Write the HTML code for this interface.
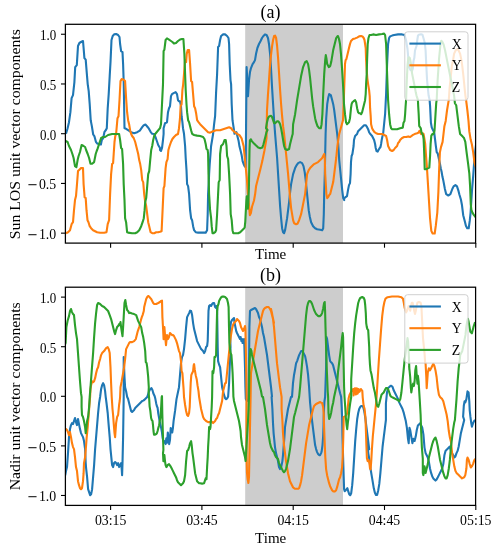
<!DOCTYPE html>
<html><head><meta charset="utf-8"><title>Sun LOS and Nadir unit vector components</title>
<style>
html,body{margin:0;padding:0;background:#fff;}
body{width:499px;height:550px;overflow:hidden;}
svg{display:block;}
text{font-family:"Liberation Serif","DejaVu Serif",serif;fill:#000;}
.tk{font-size:13.8px;}
.lb{font-size:14.2px;}
.tt{font-size:18px;}
.lg{font-size:13.8px;}
.mn{font-family:"DejaVu Serif",serif;font-size:13px;}
</style></head>
<body>
<svg width="499" height="550" viewBox="0 0 499 550">
<rect width="499" height="550" fill="#fff"/>
<clipPath id="clip0"><rect x="65.4" y="24.3" width="410.20000000000005" height="218.79999999999998"/></clipPath>
<rect x="245.2" y="24.3" width="97.80000000000001" height="218.79999999999998" fill="#cdcdcd"/>
<g clip-path="url(#clip0)">
<polyline points="66.0,133.8 67.6,128.2 69.0,122.2 70.4,112.2 71.6,98.1 73.0,95.1 74.4,82.1 75.2,67.1 76.8,65.1 78.0,46.0 79.4,43.0 81.0,42.0 83.0,41.0 83.6,48.0 84.4,58.1 85.7,59.7 86.7,72.1 87.7,84.1 88.7,91.1 89.7,104.2 90.7,120.2 91.8,125.9 93.2,134.5 94.5,136.4 95.9,141.8 97.3,143.6 98.6,144.1 100.0,144.5 100.9,144.5 101.8,140.0 103.2,138.2 104.5,131.8 105.9,130.0 106.8,128.2 107.7,108.2 108.7,94.1 109.7,76.1 110.5,62.1 111.5,40.0 112.7,36.0 114.1,34.4 116.1,34.0 118.1,35.0 119.5,37.0 120.1,44.0 121.1,51.1 122.5,52.1 123.1,64.1 123.7,82.1 124.1,104.2 124.5,128.2 125.7,128.6 128.1,130.2 131.1,132.2 134.1,133.2 137.2,132.2 139.8,130.6 142.2,127.2 143.8,125.2 145.4,124.6 146.6,125.8 147.8,127.2 149.2,129.2 150.6,131.8 152.2,133.8 154.2,134.0 155.8,138.0 157.2,142.0 158.2,145.0 160.0,148.0 160.0,150.0 161.0,151.0 162.0,148.0 163.0,140.0 163.6,134.0 163.6,128.2 165.0,123.2 167.0,122.2 168.0,112.2 169.0,108.2 170.0,106.2 171.0,96.1 172.0,94.1 173.6,93.1 175.6,92.1 177.0,94.1 178.0,100.2 179.0,101.2 180.0,101.2 181.0,106.2 181.6,116.2 182.4,122.2 183.0,128.2 184.0,133.8 185.1,146.0 185.7,158.0 186.5,170.1 187.1,184.1 188.1,186.1 189.1,194.1 190.1,210.2 191.1,218.2 192.1,220.2 193.1,226.2 194.1,230.2 195.7,232.2 198.1,232.6 202.1,232.6 205.7,232.6 207.1,230.2 207.7,214.2 208.1,194.1 208.7,184.1 209.1,174.1 209.7,164.1 210.5,154.0 211.1,146.0 212.1,140.0 213.1,134.0 214.1,124.2 215.1,116.2 216.1,92.1 217.1,74.1 218.1,47.0 219.1,46.0 220.1,40.0 221.1,36.0 223.1,34.4 225.1,34.4 227.1,36.0 228.5,38.0 229.1,44.0 229.7,64.1 230.5,80.1 231.1,84.1 231.7,104.2 232.5,120.2 233.7,128.2 234.5,133.8 236.4,132.1 237.4,136.2 238.5,140.4 239.5,146.6 240.6,150.7 241.6,154.9 242.6,161.1 243.7,164.2 244.7,166.3 245.7,167.3 246.6,67.1 247.0,74.1 247.6,92.1 248.0,96.1 248.4,90.1 249.0,80.1 250.0,72.1 251.0,68.1 252.6,64.1 254.0,62.1 255.0,60.1 256.0,54.1 257.4,48.0 259.0,44.0 260.6,41.0 262.0,38.0 263.4,36.0 265.0,34.4 266.6,35.0 268.0,38.0 269.0,44.0 270.1,54.1 271.1,70.1 272.1,88.1 273.1,104.2 274.1,120.2 275.1,133.8 276.1,146.0 277.1,158.0 278.1,174.1 279.1,190.1 280.1,206.1 281.1,218.2 282.1,228.2 283.1,232.2 284.1,233.2 285.1,230.2 286.1,224.2 287.1,218.2 288.1,210.2 289.1,202.1 290.1,192.1 291.1,184.1 293.1,174.1 295.1,168.1 296.7,165.1 298.1,163.1 300.1,162.1 302.1,163.1 303.5,166.1 304.7,172.1 305.7,180.1 306.7,190.1 307.7,200.1 308.7,210.2 309.7,216.2 311.1,222.2 313.1,226.2 315.1,228.2 317.1,229.2 320.2,229.8 322.2,230.2 323.2,228.2 323.8,214.2 324.2,194.1 324.8,174.1 325.2,154.0 325.6,134.0 326.2,118.2 327.2,104.2 328.2,98.1 329.2,94.1 330.8,95.1 332.2,100.2 333.2,104.2 334.2,110.2 335.2,118.2 336.2,126.2 337.2,133.8 338.2,144.0 339.2,160.1 340.2,170.1 341.2,180.1 342.2,190.1 343.2,198.1 344.2,200.1 344.0,198.5 345.6,197.1 347.0,196.1 348.0,190.1 349.0,185.1 350.0,183.1 350.6,174.1 351.0,162.1 351.6,156.0 352.4,154.0 353.6,146.0 354.0,140.0 355.1,136.0 356.1,135.0 357.1,134.0 358.1,131.2 360.1,129.2 362.1,127.2 364.1,125.2 365.7,125.2 367.1,127.2 368.1,129.2 369.1,132.2 370.1,133.8 372.1,136.0 373.1,138.0 374.1,140.0 375.1,144.0 375.7,148.0 376.5,151.0 377.7,151.6 378.5,150.0 379.7,148.0 380.5,147.0 381.1,144.0 381.7,140.0 382.5,136.0 383.1,134.0 385.1,114.2 386.1,94.1 387.1,64.1 388.1,44.0 389.1,38.0 390.1,36.4 392.1,35.6 394.1,35.0 398.1,34.4 402.1,34.4 404.5,35.0 404.5,34.8 406.0,40.0 407.5,49.0 408.3,58.1 409.0,67.1 410.5,70.1 412.0,70.8 412.8,68.6 413.5,61.1 414.3,58.1 415.0,50.5 416.5,46.0 417.3,40.0 418.0,35.5 418.8,34.8 421.0,34.3 422.5,34.8 424.0,40.0 424.8,43.0 425.6,50.5 426.3,65.6 427.1,80.6 428.6,95.6 429.6,99.8 430.1,106.3 430.9,122.7 431.8,127.6 432.6,129.2 434.2,132.5 435.0,139.0 435.8,145.6 436.7,152.1 437.8,153.7 438.8,158.6 439.9,163.5 440.8,168.4 441.6,171.7 442.4,176.6 443.2,179.9 444.9,189.0 446.2,194.2 448.3,195.5 450.4,194.2 452.3,189.0 453.6,186.4 455.4,185.1 457.0,186.4 458.3,190.3 459.3,194.2 460.9,199.5 461.9,204.7 463.2,215.2 464.6,220.4 465.9,225.7 467.2,228.3 468.7,228.3 469.8,220.4 470.6,212.6 471.9,191.6 473.2,175.9 474.5,157.6 476.1,144.5" fill="none" stroke="#1f77b4" stroke-width="2.1" stroke-linejoin="round" stroke-linecap="butt"/>
<polyline points="66.0,233.2 68.0,232.2 70.0,230.2 71.6,224.2 73.0,222.2 74.0,210.2 75.0,200.1 76.0,196.1 77.0,184.1 78.0,171.1 79.4,169.7 81.0,168.1 83.0,168.1 83.6,184.1 84.6,197.1 85.7,198.1 86.5,210.2 87.5,220.2 88.5,222.2 89.7,226.2 91.1,228.2 93.1,230.2 95.1,231.2 97.1,232.2 100.1,232.8 104.1,232.8 106.5,232.2 107.7,224.2 109.1,220.2 110.1,194.1 111.1,174.1 112.1,164.1 113.1,163.1 113.7,154.0 114.5,142.0 115.3,136.0 116.1,134.0 117.5,118.2 118.5,116.2 119.5,100.2 120.5,81.1 121.7,79.1 123.7,79.7 125.1,81.1 126.1,98.1 127.1,112.2 128.1,120.2 129.1,124.2 130.1,130.2 131.1,133.8 132.1,136.0 133.7,138.0 135.2,142.0 136.2,146.0 137.2,150.0 138.2,154.0 139.2,160.1 140.2,164.1 141.2,170.1 142.2,180.1 143.2,182.1 144.2,194.1 145.2,202.1 146.2,206.1 147.2,214.2 148.2,222.2 149.2,226.2 150.6,232.2 152.2,233.2 154.2,233.2 156.2,232.2 158.2,232.2 160.0,231.8 161.6,231.2 162.4,214.2 163.6,188.1 164.4,186.1 165.6,168.1 166.4,162.1 167.6,159.1 168.4,150.0 169.6,146.0 171.0,142.0 172.4,139.0 174.0,137.0 176.0,135.0 178.0,134.0 179.0,128.2 180.0,118.2 180.6,106.2 181.6,104.2 182.4,90.1 183.2,84.1 184.0,74.1 185.1,60.1 186.1,62.1 186.7,54.1 187.7,50.1 189.1,50.1 190.1,64.1 191.1,81.1 192.1,82.1 193.1,94.1 194.1,106.2 195.1,108.2 196.1,113.2 197.1,120.2 198.5,122.2 200.1,124.2 202.1,126.2 204.1,128.2 206.1,130.2 208.1,132.2 210.1,132.6 213.1,131.2 216.1,130.2 220.1,130.2 223.1,129.2 226.1,128.2 229.1,127.2 231.1,128.2 232.5,130.2 234.5,131.8 237.2,133.8 239.5,135.2 241.6,138.3 243.7,146.6 244.7,157.0 245.7,167.3 246.8,177.7 247.8,192.2 248.9,204.7 249.9,215.1 250.9,213.0 252.0,206.8 254.0,200.5 255.1,194.3 256.1,186.0 258.2,177.7 260.3,169.4 262.3,161.1 264.4,150.7 266.5,138.3 267.0,110.2 268.0,94.1 269.0,80.1 270.1,64.1 271.1,54.1 272.1,46.0 273.1,40.0 274.1,36.0 275.1,35.6 276.1,38.0 277.1,46.0 278.1,58.1 279.1,74.1 280.1,90.1 281.1,104.2 282.1,116.2 283.1,126.2 284.1,133.8 285.1,144.0 286.1,154.0 287.1,164.1 288.1,174.1 289.1,186.1 290.1,198.1 291.1,208.1 292.1,214.2 293.1,220.2 294.1,223.2 296.1,224.2 297.5,223.8 299.1,220.2 301.1,214.2 303.1,204.1 305.1,194.1 306.1,184.1 307.1,174.1 308.7,170.1 310.1,168.1 312.1,166.1 314.1,164.1 316.1,163.1 318.1,162.1 320.2,160.1 322.2,158.0 323.2,156.0 324.2,154.0 324.8,158.0 325.2,174.1 325.8,184.1 326.4,194.1 327.2,198.1 328.2,197.1 329.2,195.1 330.2,194.1 331.2,190.1 332.2,186.1 333.2,182.1 334.2,174.1 335.2,166.1 336.2,158.0 337.2,148.0 338.2,140.0 339.2,134.0 343.0,120.2 344.0,94.1 345.0,64.1 345.6,60.1 346.4,59.1 347.6,54.1 349.0,48.0 350.0,44.0 351.0,41.0 352.0,40.0 353.0,39.0 355.1,38.4 357.1,37.6 359.1,36.4 361.1,36.0 362.5,36.4 363.7,38.0 364.5,40.0 365.1,44.0 365.7,48.0 366.1,60.1 366.7,70.1 367.3,78.1 368.1,84.1 369.1,90.1 369.7,96.1 370.1,108.2 370.7,116.2 371.1,124.2 372.1,128.2 373.1,130.2 374.5,132.2 376.1,133.2 378.1,134.0 380.1,134.0 382.1,134.0 384.1,135.0 386.1,136.0 387.1,140.0 388.1,146.0 389.1,148.0 390.1,150.0 392.1,151.0 393.7,150.0 395.1,148.0 396.1,147.0 397.1,146.0 398.1,143.0 399.1,142.0 400.1,140.0 401.1,139.0 402.1,138.0 404.1,137.0 406.2,137.0 408.2,136.4 410.2,137.0 413.0,134.9 414.6,134.1 417.1,133.3 418.7,132.5 419.5,130.8 420.3,132.5 421.1,134.1 422.8,133.3 423.6,134.1 424.4,139.0 425.2,143.9 426.0,155.4 426.9,166.8 427.4,175.0 427.7,179.9 430.0,217.8 431.3,230.9 432.6,233.5 434.7,233.5 435.8,225.7 437.3,212.6 438.4,191.6 439.2,168.1 439.9,152.4 441.0,147.1 442.6,141.9 444.4,126.2 445.7,120.9 447.0,110.5 448.3,102.6 448.8,100.0 449.6,88.1 451.1,73.1 451.9,65.6 452.6,62.6 453.4,58.1 454.1,53.6 455.6,50.5 457.1,49.0 458.6,50.5 460.1,53.6 461.6,61.1 462.4,67.1 463.1,73.1 463.9,80.6 464.6,88.1 465.4,95.6 466.1,100.1 467.4,110.5 468.5,120.9 469.3,131.4 470.6,139.3 471.9,144.5 473.2,152.4 474.5,162.8 476.1,168.1" fill="none" stroke="#ff7f0e" stroke-width="2.1" stroke-linejoin="round" stroke-linecap="butt"/>
<polyline points="65.6,141.0 67.6,142.0 69.0,146.0 71.0,150.0 72.4,154.0 73.6,158.0 75.0,166.1 76.4,167.1 77.6,160.1 78.6,156.0 80.0,152.0 81.6,145.0 83.6,146.0 85.1,147.0 86.1,150.0 87.7,154.0 89.1,158.0 90.5,163.7 92.1,163.7 94.1,162.1 95.7,154.0 96.7,151.0 97.7,148.4 99.1,144.0 101.1,138.0 103.1,137.0 105.1,137.0 108.1,135.0 112.1,134.0 117.1,134.0 119.1,134.0 120.1,140.0 121.1,148.0 122.1,149.0 123.1,164.1 123.7,184.1 124.5,200.1 125.1,218.2 126.1,222.2 127.1,232.2 128.1,232.6 132.1,233.2 135.2,233.2 137.2,232.2 139.2,230.2 141.2,226.2 142.6,222.2 143.8,218.2 144.6,210.2 145.2,202.1 146.2,198.1 147.2,186.1 148.2,174.1 149.2,171.1 150.2,160.1 151.2,150.0 152.2,146.0 153.2,140.0 154.2,136.0 155.2,134.0 160.0,128.2 161.0,124.2 162.0,104.2 163.0,84.1 163.6,51.1 164.4,49.7 165.6,40.0 167.0,38.4 169.0,39.6 171.0,41.0 172.4,42.0 174.0,43.6 176.0,43.0 178.0,41.0 180.0,39.6 182.0,39.0 183.4,39.0 184.4,54.1 185.1,74.1 185.7,90.1 186.5,104.2 187.1,112.2 188.1,120.2 189.1,122.2 190.1,126.2 191.1,130.2 192.1,133.8 194.1,135.0 197.1,135.6 200.1,136.0 203.1,137.0 204.5,139.0 205.7,144.0 206.5,149.0 207.7,150.0 208.1,154.0 208.5,174.1 209.1,194.1 210.1,210.2 211.1,218.2 211.7,226.2 212.5,233.2 213.7,233.2 215.1,232.2 216.1,230.2 217.1,214.2 218.1,194.1 218.7,182.1 219.7,180.1 220.1,154.0 221.1,146.0 223.1,144.0 224.5,140.0 225.7,140.0 226.5,146.0 227.1,156.0 228.1,159.1 229.1,174.1 230.1,194.1 230.7,214.2 231.7,220.2 232.5,230.2 233.3,233.2 235.2,233.2 238.2,233.2 240.2,232.2 242.2,230.2 244.2,228.2 244.7,227.5 245.3,221.3 245.7,213.0 246.4,200.5 246.8,196.4 247.4,198.5 247.8,208.8 248.2,204.7 248.9,188.1 249.5,150.7 249.9,140.4 250.9,139.3 252.0,141.4 254.0,143.5 256.1,145.6 258.2,147.6 260.3,148.3 262.3,147.6 263.4,144.5 264.4,140.4 265.5,136.2 266.5,132.1 267.5,130.0 266.0,128.2 267.0,122.2 268.0,118.2 269.4,116.2 271.1,115.8 272.1,117.2 273.1,120.2 274.1,123.2 275.1,123.2 276.1,122.2 277.1,121.2 278.1,121.2 279.1,122.2 280.1,124.2 281.1,128.2 282.1,133.8 283.1,140.0 284.1,146.0 285.1,149.0 287.1,150.0 289.1,149.0 290.1,144.0 291.1,140.0 292.1,136.0 292.7,134.0 293.1,124.2 295.1,114.2 297.1,100.2 299.1,88.1 301.1,76.1 303.1,67.1 305.1,62.1 306.7,61.1 308.1,64.1 309.1,70.1 310.1,78.1 311.1,88.1 312.1,98.1 313.1,106.2 314.1,112.2 315.1,118.2 316.1,122.2 317.5,126.2 319.1,128.2 320.8,128.2 321.6,124.2 322.4,114.2 323.2,94.1 324.2,74.1 325.2,60.1 325.8,55.1 326.4,58.1 327.2,64.1 328.8,67.1 330.2,66.1 331.2,62.1 332.2,56.1 333.2,50.1 334.2,46.0 335.2,42.0 336.2,38.0 337.6,36.0 338.0,36.0 339.0,39.0 340.0,44.0 341.0,54.1 342.0,68.1 343.0,84.1 344.0,104.2 345.0,114.2 346.0,122.2 347.0,124.2 348.0,123.2 349.0,122.2 350.0,118.2 351.0,108.2 351.6,104.2 352.4,102.2 353.6,101.2 355.1,100.2 356.1,102.2 357.1,108.2 358.1,112.2 359.1,113.2 360.1,113.2 361.1,114.2 362.1,112.2 363.1,108.2 364.1,104.2 365.1,100.2 365.7,94.1 366.1,84.1 366.7,74.1 367.1,60.1 367.7,44.0 368.5,38.0 369.5,35.0 371.1,35.0 373.1,34.4 376.1,35.0 379.1,34.4 382.1,34.0 384.1,33.6 385.1,35.0 386.1,44.0 387.1,74.1 388.1,100.2 389.1,114.2 390.1,124.2 391.1,128.2 392.1,129.2 394.1,129.2 397.1,129.2 400.1,128.2 402.8,127.6 403.5,122.7 404.5,121.0 405.1,114.5 405.6,106.3 406.1,99.8 406.8,80.6 407.5,65.6 408.3,58.1 409.0,57.3 409.8,58.1 410.5,61.1 411.3,65.6 412.0,73.1 413.5,80.6 415.0,88.1 415.8,92.6 416.5,95.6 417.9,99.8 418.2,106.3 418.7,114.5 419.2,125.9 419.8,126.8 420.8,128.4 421.5,132.5 422.5,134.1 423.1,135.8 423.6,139.0 424.1,150.5 424.4,158.6 424.7,169.2 426.0,169.2 427.7,168.4 429.3,167.6 430.1,155.4 430.6,143.9 431.3,135.8 432.3,134.1 433.4,134.1 434.5,130.8 435.0,122.7 435.5,114.5 436.2,103.1 436.7,99.8 437.6,80.6 439.1,58.1 440.6,43.0 441.3,40.8 442.1,41.5 443.6,44.5 445.1,50.5 446.6,58.1 448.1,65.6 449.6,73.1 451.1,80.6 452.6,88.1 454.1,95.6 454.9,103.2 456.2,105.2 457.5,115.7 458.8,126.2 460.1,134.0 462.7,136.6 464.0,138.0 465.3,141.9 466.6,152.4 468.0,162.8 469.3,173.3 470.1,186.4 470.8,204.7 471.4,209.9 472.4,212.6 474.0,215.2 476.1,217.8" fill="none" stroke="#2ca02c" stroke-width="2.1" stroke-linejoin="round" stroke-linecap="butt"/>
</g>
<rect x="65.4" y="24.3" width="410.20000000000005" height="218.79999999999998" fill="none" stroke="#000" stroke-width="1.25"/>
<line x1="61.00000000000001" y1="34.25" x2="65.4" y2="34.25" stroke="#000" stroke-width="1.1"/>
<text x="56.2" y="40.15" text-anchor="end" textLength="16.2" lengthAdjust="spacingAndGlyphs" class="tk">1.0</text>
<line x1="61.00000000000001" y1="83.97" x2="65.4" y2="83.97" stroke="#000" stroke-width="1.1"/>
<text x="56.2" y="89.87" text-anchor="end" textLength="16.2" lengthAdjust="spacingAndGlyphs" class="tk">0.5</text>
<line x1="61.00000000000001" y1="133.70" x2="65.4" y2="133.70" stroke="#000" stroke-width="1.1"/>
<text x="56.2" y="139.60" text-anchor="end" textLength="16.2" lengthAdjust="spacingAndGlyphs" class="tk">0.0</text>
<line x1="61.00000000000001" y1="183.43" x2="65.4" y2="183.43" stroke="#000" stroke-width="1.1"/>
<text x="56.2" y="189.33" text-anchor="end" class="tk"><tspan class="mn">−</tspan><tspan dx="0.7">0.5</tspan></text>
<line x1="61.00000000000001" y1="233.15" x2="65.4" y2="233.15" stroke="#000" stroke-width="1.1"/>
<text x="56.2" y="239.05" text-anchor="end" class="tk"><tspan class="mn">−</tspan><tspan dx="0.7">1.0</tspan></text>
<line x1="110.60" y1="243.1" x2="110.60" y2="247.7" stroke="#000" stroke-width="1.1"/>
<line x1="201.90" y1="243.1" x2="201.90" y2="247.7" stroke="#000" stroke-width="1.1"/>
<line x1="293.20" y1="243.1" x2="293.20" y2="247.7" stroke="#000" stroke-width="1.1"/>
<line x1="384.50" y1="243.1" x2="384.50" y2="247.7" stroke="#000" stroke-width="1.1"/>
<line x1="475.80" y1="243.1" x2="475.80" y2="247.7" stroke="#000" stroke-width="1.1"/>
<text x="270.7" y="258.6" text-anchor="middle" textLength="31.2" lengthAdjust="spacingAndGlyphs" class="lb">Time</text>
<text x="270.5" y="17.6" text-anchor="middle" class="tt">(a)</text>
<text transform="translate(19.6,134.2) rotate(-90)" x="0" y="0" text-anchor="middle" textLength="210" lengthAdjust="spacingAndGlyphs" class="lb">Sun LOS unit vector components</text>
<rect x="404.8" y="31.8" width="63.2" height="68.4" rx="2.8" ry="2.8" fill="#fff" fill-opacity="0.8" stroke="#d0d0d0" stroke-width="1"/>
<line x1="409.4" y1="43.6" x2="440.9" y2="43.6" stroke="#1f77b4" stroke-width="2.1"/>
<text x="451.8" y="48.6" class="lg">X</text>
<line x1="409.4" y1="65.3" x2="440.9" y2="65.3" stroke="#ff7f0e" stroke-width="2.1"/>
<text x="451.8" y="70.3" class="lg">Y</text>
<line x1="409.4" y1="87.0" x2="440.9" y2="87.0" stroke="#2ca02c" stroke-width="2.1"/>
<text x="451.8" y="92.0" class="lg">Z</text>
<clipPath id="clip1"><rect x="65.4" y="287.2" width="410.20000000000005" height="218.2"/></clipPath>
<rect x="245.2" y="287.2" width="97.80000000000001" height="218.2" fill="#cdcdcd"/>
<g clip-path="url(#clip1)">
<polyline points="65.2,475.2 66.0,471.1 67.0,467.1 68.0,453.1 69.0,437.1 70.0,429.1 71.0,425.1 72.0,423.1 73.0,424.1 74.0,421.0 75.0,418.0 76.0,422.1 77.0,425.1 78.0,419.0 79.0,424.1 80.0,429.1 81.0,433.1 82.0,435.1 83.0,437.1 84.0,441.1 85.1,449.1 85.7,463.1 86.1,468.1 87.1,477.2 88.1,489.2 89.1,492.2 90.1,495.2 91.1,494.2 92.1,489.2 93.1,477.2 94.1,465.1 95.1,449.1 96.1,437.1 97.1,425.1 98.1,413.0 99.1,403.0 100.1,397.0 101.1,389.2 102.1,385.2 103.1,383.2 104.1,385.2 105.1,391.2 105.7,396.8 106.5,403.0 107.7,413.0 108.5,423.1 109.7,437.1 110.5,449.1 111.3,457.1 112.1,465.1 113.1,467.1 114.1,463.1 115.1,462.1 116.1,463.1 117.1,465.1 118.1,463.1 119.1,467.1 120.1,465.1 121.1,463.1 121.7,469.1 122.1,475.2 122.5,463.1 123.1,437.1 123.7,397.0 123.7,357.1 124.1,367.2 124.5,377.2 125.1,387.2 126.1,391.2 127.1,396.8 128.1,399.0 129.1,403.0 130.1,407.0 131.1,411.0 132.1,412.0 133.1,411.0 134.1,410.0 135.2,408.0 136.2,407.0 137.2,406.0 138.2,405.0 139.2,404.0 140.2,403.0 141.2,402.0 142.2,401.0 143.2,400.6 144.2,400.0 145.2,399.0 146.2,398.0 147.2,397.0 148.9,391.8 150.3,388.9 151.5,388.2 152.5,390.3 153.3,393.3 154.7,396.2 155.4,399.1 156.2,403.4 156.9,406.3 157.6,407.8 158.3,413.6 159.1,418.0 159.8,422.3 160.5,425.2 161.2,428.1 162.0,432.5 162.7,438.3 163.4,441.2 164.2,442.7 164.9,441.2 165.6,444.1 166.3,438.3 167.1,442.7 167.8,432.5 168.5,436.9 169.2,444.1 170.0,439.8 170.7,428.1 171.4,431.0 172.2,432.5 172.9,428.1 173.6,420.9 175.1,410.7 176.5,399.1 179.0,387.2 180.0,375.2 181.0,363.2 182.0,357.1 183.0,355.1 184.0,349.1 185.1,339.1 186.1,327.1 187.1,317.1 188.1,315.1 189.1,313.1 190.1,310.6 191.1,311.0 192.1,315.1 193.1,323.1 194.1,329.1 195.1,333.1 196.1,337.1 197.1,341.1 198.1,343.1 199.1,345.1 200.1,347.1 201.1,349.1 202.1,350.1 203.1,351.1 204.1,353.1 205.1,351.1 206.1,347.1 207.1,346.1 207.7,341.1 208.1,327.1 208.5,311.0 209.1,306.0 210.1,305.0 211.1,306.0 212.1,304.0 213.1,303.0 214.1,303.0 215.1,307.0 216.1,308.0 216.5,306.0 217.1,309.0 217.7,347.1 218.1,361.1 218.7,363.2 219.3,365.2 220.1,367.2 221.1,377.2 222.1,387.2 223.1,391.2 224.1,395.2 225.1,398.2 226.1,399.2 227.1,398.4 228.1,396.8 229.1,383.2 229.7,367.2 230.5,347.1 230.0,331.0 230.6,325.0 231.0,322.0 232.0,320.0 233.0,319.0 234.0,318.0 234.6,323.0 235.4,327.0 236.2,331.0 237.0,333.0 238.0,335.0 239.0,337.0 240.0,339.0 240.6,337.0 241.4,341.0 242.0,339.0 242.6,343.0 243.4,341.0 244.0,339.0 244.4,347.0 245.0,367.0 245.4,387.0 245.8,399.0 247.0,401.0 248.2,399.0 248.6,387.0 249.0,367.0 249.4,327.0 250.0,311.0 251.0,310.0 253.0,309.0 255.0,308.0 256.0,309.0 257.0,311.0 258.0,313.0 259.0,317.0 260.0,319.0 261.0,323.0 262.0,327.0 263.0,333.0 264.0,337.0 265.0,343.0 266.0,349.0 267.0,355.0 268.0,363.0 269.0,371.0 270.0,379.0 271.0,387.0 272.0,396.6 271.6,397.0 272.4,409.0 273.0,423.1 273.6,433.1 274.4,441.1 275.0,447.1 276.0,453.1 277.0,457.1 278.0,461.1 279.0,467.1 280.0,469.1 281.0,468.1 281.6,465.1 282.4,461.1 283.0,455.1 283.6,447.1 284.4,437.1 285.0,427.1 286.0,421.0 287.0,415.0 288.0,409.0 289.0,405.0 290.0,401.0 291.0,397.0 292.0,396.8 293.0,383.2 294.0,375.2 295.1,369.2 296.1,363.2 297.1,361.1 298.1,358.1 299.1,355.1 300.1,353.1 301.1,351.1 302.1,351.1 303.1,352.1 304.1,354.1 305.1,356.1 306.1,361.1 307.1,367.2 308.1,375.2 309.1,387.2 309.7,396.8 310.1,403.0 311.1,413.0 312.1,421.0 313.1,429.1 314.1,437.1 315.1,445.1 316.1,449.1 317.1,452.1 318.1,454.1 319.1,455.1 320.1,455.1 321.1,453.1 321.7,451.1 322.5,445.1 323.1,437.1 323.5,427.1 323.7,417.0 324.1,407.0 324.5,401.0 325.1,397.0 326.1,367.2 326.5,337.1 327.1,339.1 328.1,347.1 329.1,355.1 330.1,361.1 331.1,362.2 332.1,363.2 333.1,365.2 334.1,369.2 335.1,373.2 336.1,377.2 337.1,381.2 338.1,385.2 339.1,389.2 340.1,393.2 341.1,396.8 341.7,407.0 342.1,417.0 342.5,437.1 343.1,457.1 343.7,477.2 344.1,489.2 344.7,491.2 345.8,490.2 346.6,489.2 347.4,488.2 348.2,491.2 349.2,494.2 350.2,495.2 351.2,493.2 352.2,485.2 353.2,473.2 354.2,457.1 355.2,441.1 356.2,429.1 357.2,419.0 358.2,413.0 359.2,409.0 360.2,407.0 361.2,406.0 362.2,406.0 363.2,407.0 364.2,411.0 365.2,417.0 366.2,425.1 367.2,433.1 368.2,441.1 369.2,449.1 367.2,442.0 368.3,453.1 369.4,459.7 370.5,468.5 371.6,475.1 372.7,481.7 373.8,488.3 374.9,492.8 376.0,495.0 377.1,495.0 378.2,490.5 379.3,483.9 380.4,472.9 381.5,459.7 382.6,446.5 383.7,437.6 384.8,428.8 385.9,420.0 385.9,403.5 387.0,392.5 388.1,388.1 389.3,387.0 390.4,385.9 391.5,385.9 392.6,387.0 393.7,390.3 394.8,392.5 395.9,394.7 397.0,396.9 398.1,399.1 399.2,402.4 400.3,404.6 401.4,406.8 402.5,409.0 403.6,412.3 404.7,416.7 405.8,421.1 406.9,427.8 408.0,438.8 408.7,443.2 409.5,427.8 410.2,430.0 411.3,436.6 412.4,443.2 413.5,438.8 414.6,441.0 415.7,436.6 416.8,430.0 417.9,425.5 419.0,424.4 420.1,423.3 421.2,425.5 422.3,427.8 423.4,434.4 424.5,447.6 425.6,453.1 426.7,455.3 427.8,457.5 428.9,461.9 430.0,468.5 431.1,472.9 432.2,476.2 433.3,478.4 434.4,479.5 435.5,480.6 436.6,479.5 437.8,477.3 438.9,475.1 440.0,472.9 441.1,470.7 442.2,468.5 443.3,464.1 444.4,455.3 445.5,450.9 446.6,449.8 447.7,448.7 448.8,447.6 449.9,446.5 451.0,450.9 452.1,453.1 453.2,455.3 454.3,457.5 455.4,456.4 456.5,453.1 457.6,450.9 458.7,446.5 459.8,439.8 460.9,433.2 462.0,428.8 463.1,424.4 464.2,420.0 463.1,416.7 463.8,405.7 464.6,401.3 465.3,402.4 466.4,399.1 467.5,391.4 468.6,392.5 469.3,401.3 469.7,410.1 470.4,416.7 471.3,423.3 471.9,426.6 473.0,423.3 474.1,421.1 475.2,420.0" fill="none" stroke="#1f77b4" stroke-width="2.1" stroke-linejoin="round" stroke-linecap="butt"/>
<polyline points="65.6,429.1 66.0,429.1 67.0,430.1 68.0,432.1 69.0,435.1 70.0,432.1 71.0,437.1 72.0,443.1 73.0,447.1 74.0,449.1 75.0,457.1 76.0,467.1 77.0,471.1 78.0,481.2 79.0,485.2 80.0,488.2 81.0,489.2 82.0,488.2 83.0,481.2 83.6,473.2 84.0,463.1 85.1,457.1 86.1,445.1 86.7,437.1 87.7,427.1 88.5,417.0 89.3,407.0 90.1,397.0 90.5,389.2 91.1,385.2 92.1,381.2 93.1,382.2 94.1,381.2 95.1,378.2 96.1,373.2 97.1,369.2 98.1,367.2 99.1,362.2 100.1,359.1 101.1,355.1 102.1,353.1 104.1,351.1 106.1,348.1 107.7,347.1 108.7,349.1 109.7,353.1 110.5,367.2 111.1,383.2 111.7,396.8 112.5,409.0 113.1,415.0 113.7,423.1 114.5,433.1 115.1,437.1 116.1,423.1 117.1,417.0 118.1,415.0 119.1,405.0 119.7,401.0 120.1,397.0 120.5,387.2 121.7,381.2 123.1,373.2 124.1,367.2 125.1,359.1 126.1,349.1 127.1,347.1 128.1,345.1 129.1,343.1 130.1,342.1 132.1,342.1 134.1,341.1 135.8,339.1 136.8,335.1 137.8,331.1 139.2,327.1 140.2,323.1 141.2,319.1 141.8,317.1 142.6,315.1 143.8,311.0 144.2,307.0 145.2,303.0 146.2,299.0 147.2,297.0 148.2,296.0 149.2,296.6 150.2,298.0 151.2,299.0 152.2,301.0 153.2,303.0 154.2,304.0 156.2,304.0 158.2,303.0 160.0,302.0 161.0,301.0 162.0,300.6 162.4,317.1 163.0,327.1 163.6,339.1 164.4,327.1 165.0,335.1 166.0,345.1 167.0,335.1 168.0,339.1 169.0,337.1 170.0,333.1 171.0,334.1 172.0,335.1 173.0,335.1 174.0,336.1 175.0,338.1 176.0,340.1 177.0,343.1 178.0,347.1 179.0,351.1 180.0,353.1 181.0,361.1 181.6,371.2 182.4,373.2 183.0,381.2 183.6,389.2 184.0,396.8 185.1,405.0 186.1,411.0 187.1,415.0 188.1,416.0 189.1,413.0 189.7,407.0 190.1,397.0 190.7,383.2 191.3,375.2 192.1,373.2 193.1,371.2 193.7,365.2 194.1,364.2 194.7,369.2 195.7,375.2 196.7,379.2 197.5,385.2 198.5,391.2 199.1,396.8 200.1,403.0 201.1,409.0 202.1,413.0 203.1,417.0 204.1,419.0 205.1,420.0 206.1,421.0 208.1,422.1 210.1,422.1 211.1,421.0 212.1,422.1 213.1,423.1 214.1,422.1 215.1,421.0 216.1,419.0 217.1,418.0 218.1,415.0 219.1,413.0 220.1,409.0 221.1,405.0 222.1,401.0 222.5,397.0 223.1,391.2 224.1,387.2 225.1,383.2 226.0,383.0 227.0,373.0 228.0,363.0 229.0,353.0 230.0,343.0 231.0,335.0 232.0,329.0 233.0,325.0 234.0,323.0 235.0,322.0 236.0,321.0 237.0,319.0 238.0,320.0 239.0,321.0 240.0,323.0 241.0,327.0 242.0,329.0 243.0,331.0 244.0,329.0 245.0,326.0 245.4,329.0 245.8,347.0 246.2,367.0 246.6,396.6 246.4,437.0 246.6,457.0 247.0,473.0 247.6,479.0 248.4,483.0 249.0,477.0 249.4,457.0 249.8,437.0 250.2,417.0 250.6,397.0 251.0,373.0 252.0,367.0 253.0,361.0 254.0,355.0 255.0,349.0 256.0,343.0 257.0,337.0 258.0,331.0 259.0,327.0 260.0,323.0 261.0,319.0 262.0,315.0 263.0,311.0 264.0,309.0 265.0,308.0 267.0,307.0 268.6,307.0 270.0,309.0 271.0,311.0 272.0,315.0 273.0,319.0 274.0,323.0 271.0,309.0 272.0,313.1 273.0,319.1 274.0,327.1 275.0,339.1 276.0,351.1 277.0,363.2 278.0,371.2 279.0,379.2 280.0,387.2 281.0,393.2 281.6,396.8 281.6,409.0 282.4,421.0 283.0,433.1 284.0,445.1 285.0,453.1 286.0,461.1 287.0,467.1 288.0,473.2 289.0,477.2 290.0,481.2 291.0,483.2 292.0,485.2 293.0,487.2 294.0,488.2 295.1,488.8 296.1,488.8 298.1,488.8 299.1,488.2 300.1,485.2 301.1,481.2 302.1,475.2 303.1,467.1 304.1,459.1 305.1,451.1 306.1,443.1 307.1,437.1 308.1,431.1 309.1,425.1 310.1,421.0 311.1,417.0 312.1,413.0 313.1,409.0 314.1,406.0 315.1,405.0 316.1,404.0 318.1,403.0 320.1,402.0 321.1,402.6 322.1,403.0 323.1,407.0 323.7,413.0 324.1,427.1 324.7,443.1 325.3,457.1 326.1,469.1 327.1,475.2 328.1,479.2 329.1,483.2 330.1,486.2 331.1,488.2 332.1,490.2 333.1,491.2 334.1,491.6 335.1,491.2 336.1,490.2 337.1,487.2 338.1,483.2 339.1,479.2 340.1,477.2 341.1,473.2 342.1,467.1 342.7,457.1 343.3,437.1 343.7,417.0 344.6,416.8 346.5,415.0 347.2,413.2 347.7,407.7 348.3,402.3 348.6,398.6 349.5,395.0 350.5,393.0 351.5,391.0 352.3,390.0 353.2,389.0 353.6,395.5 354.1,389.0 355.0,388.2 355.9,394.5 356.8,388.2 357.7,393.6 358.6,389.0 359.5,391.8 360.9,389.0 362.3,390.9 362.7,397.3 363.6,405.5 364.6,409.1 365.5,418.2 366.4,445.6 366.9,458.3 367.7,461.1 368.7,460.2 369.5,463.8 370.0,468.4 370.6,469.3 371.3,460.2 371.8,451.0 372.8,436.5 373.7,427.3 374.6,418.2 375.5,409.1 376.4,400.0 377.8,377.3 378.9,359.8 380.0,344.5 381.1,329.3 382.2,316.2 383.3,307.5 384.4,302.0 385.5,298.7 387.6,297.2 392.0,296.5 398.1,296.5 401.4,297.2 403.0,298.8 403.8,302.8 404.6,307.6 406.2,312.4 407.0,310.8 408.6,306.0 409.4,307.6 410.2,310.8 411.0,306.0 411.8,302.8 412.6,302.8 413.4,306.0 414.2,310.8 415.0,314.0 415.8,310.8 416.6,306.0 417.4,302.8 419.0,302.0 420.6,302.8 421.4,306.0 422.2,322.1 423.0,338.1 423.8,346.1 424.6,354.1 425.1,362.1 425.6,363.8 426.3,377.0 426.7,388.1 427.8,372.6 428.9,368.2 430.0,370.4 431.1,368.2 432.2,366.0 433.3,363.8 434.4,366.0 435.5,370.4 436.6,377.0 437.8,388.1 438.9,394.7 440.0,396.9 441.1,398.0 442.2,399.1 443.3,401.3 444.4,405.7 445.5,410.1 446.6,414.5 447.7,421.1 448.8,431.0 449.9,437.6 451.0,442.0 452.1,453.1 453.2,459.7 454.3,466.3 455.4,470.7 456.5,472.9 457.6,474.0 458.7,475.1 459.8,476.2 460.9,477.3 462.0,478.4 463.1,477.8 464.2,477.3 465.3,475.1 466.4,468.5 466.9,459.7 467.5,457.5 468.6,459.7 469.7,464.1 470.8,467.4 471.9,466.3 473.0,464.1 474.1,460.8 475.2,458.6" fill="none" stroke="#ff7f0e" stroke-width="2.1" stroke-linejoin="round" stroke-linecap="butt"/>
<polyline points="65.2,344.1 65.6,342.9 66.4,327.1 67.6,320.7 69.0,316.1 70.0,311.0 71.0,309.0 72.0,312.1 73.0,314.1 74.0,315.1 75.0,325.1 76.0,333.1 77.0,339.1 78.0,353.1 79.0,367.2 80.0,381.2 81.0,393.2 81.6,396.8 81.6,407.0 82.0,415.0 83.0,417.0 84.0,421.0 85.1,427.1 85.7,433.1 86.5,427.1 87.1,421.0 88.1,417.0 89.1,407.0 89.7,397.0 90.5,387.2 91.7,371.2 93.1,353.1 94.1,337.1 95.1,323.1 96.1,313.1 97.1,305.0 98.1,303.0 100.1,304.0 102.1,306.0 104.1,307.0 106.1,309.0 108.1,311.0 109.7,315.1 111.1,319.1 112.1,323.1 113.1,327.1 114.1,331.1 115.1,334.1 116.1,330.1 117.1,327.1 118.1,326.1 119.1,324.1 119.7,325.1 120.5,322.1 121.1,327.1 121.7,331.1 122.5,336.1 123.1,327.1 123.7,317.1 124.5,303.0 125.3,300.0 126.1,305.0 127.1,310.0 128.1,311.0 129.1,313.1 130.1,312.7 132.1,313.5 134.1,314.1 136.2,315.1 137.2,318.1 138.2,321.1 139.2,323.1 140.2,325.1 141.2,327.1 142.2,333.1 143.2,337.1 144.2,343.1 145.2,351.1 145.8,362.2 146.6,363.2 147.2,367.2 148.2,377.2 148.8,387.2 148.6,391.8 149.2,399.1 149.6,406.3 150.3,410.7 151.1,418.0 151.8,420.1 152.5,420.9 153.0,425.2 153.5,431.0 154.0,434.7 154.7,434.7 156.2,434.0 156.9,433.2 157.6,431.0 158.3,428.1 159.1,425.2 159.8,420.9 160.5,416.5 161.2,406.3 161.7,396.9 162.0,396.2 162.3,413.6 162.7,428.1 163.1,439.8 163.4,449.9 163.0,453.1 163.4,461.1 164.0,457.1 164.4,455.1 165.0,461.1 165.6,465.1 166.4,467.1 167.6,465.1 169.0,464.1 170.4,466.1 172.0,469.1 173.0,471.1 174.0,473.2 175.0,475.2 176.0,477.2 177.0,480.2 178.0,482.2 179.0,483.2 180.0,484.2 181.0,485.2 182.0,484.2 183.0,483.2 184.0,481.2 185.1,475.2 186.1,461.1 187.1,451.1 188.1,450.1 189.1,447.1 190.1,443.1 191.1,441.1 191.7,445.1 192.5,453.1 193.1,457.1 194.1,465.1 195.1,473.2 196.1,477.2 197.1,481.2 198.1,482.2 199.1,483.2 200.1,483.2 202.1,483.6 204.1,483.2 205.1,480.2 205.7,478.2 206.5,479.2 207.1,467.1 207.7,457.1 208.1,447.1 208.7,437.1 209.1,427.1 209.7,428.1 210.1,429.1 210.5,427.1 211.1,417.0 211.7,407.0 212.1,397.0 212.5,371.2 213.3,373.2 214.1,367.2 214.5,357.1 215.3,357.1 216.1,355.1 216.7,327.1 217.1,311.0 217.7,306.0 218.5,304.0 219.1,301.0 220.1,299.0 221.1,297.4 222.1,296.6 223.7,296.6 225.1,297.0 227.0,299.0 228.0,303.0 228.6,307.0 229.0,327.0 229.4,343.0 230.0,349.0 230.6,353.0 231.4,355.0 232.0,363.0 232.6,373.0 233.0,383.0 233.4,396.6 234.0,401.0 235.0,405.0 236.0,409.0 237.0,413.0 238.0,417.0 239.0,421.0 240.0,427.0 240.6,431.0 241.0,437.0 242.0,445.0 243.0,449.0 244.0,453.0 245.0,457.0 245.6,461.0 246.2,451.0 247.0,437.0 248.0,421.0 248.6,409.0 249.0,397.0 249.4,367.0 250.0,353.0 250.6,349.0 251.4,351.0 252.0,355.0 253.0,359.0 254.0,363.0 255.0,367.0 256.0,371.0 257.0,375.0 258.0,379.0 259.0,383.0 260.0,387.0 261.0,391.0 262.0,396.6 263.0,397.0 264.0,403.0 265.0,409.0 266.0,417.0 267.0,425.0 268.0,431.0 269.0,437.0 270.0,443.0 271.0,447.0 272.0,449.0 273.0,451.0 274.0,452.0 275.0,455.1 276.0,457.1 277.0,458.1 278.0,459.1 279.0,463.1 280.0,465.1 281.0,467.1 282.0,469.1 283.0,471.1 284.0,472.2 285.0,471.1 286.0,469.1 287.0,465.1 288.0,461.1 289.0,455.1 290.0,449.1 291.0,441.1 292.0,433.1 293.0,425.1 294.0,417.0 295.1,413.0 296.1,409.0 297.1,405.0 298.1,401.0 299.1,397.0 300.1,387.2 301.1,375.2 302.1,363.2 303.1,351.1 304.1,339.1 305.1,327.1 306.1,315.1 307.1,307.0 308.1,303.0 309.1,301.0 310.1,301.0 311.1,302.0 312.1,304.0 313.1,307.0 314.1,310.0 315.1,312.1 316.1,314.1 317.1,315.1 318.1,316.1 319.1,316.1 320.1,316.1 321.1,315.1 322.1,313.1 323.1,309.0 324.1,303.0 324.7,302.0 325.1,311.0 325.5,327.1 326.1,347.1 326.7,367.2 327.3,381.2 327.7,391.2 328.1,396.8 328.5,413.0 329.1,419.0 330.1,417.0 331.1,413.0 332.1,407.0 333.1,403.0 334.1,397.0 337.1,383.2 338.1,371.2 339.1,363.2 340.1,355.1 341.1,347.1 342.1,337.1 342.7,333.1 343.1,337.1 343.3,347.1 343.7,367.2 344.1,387.2 344.5,396.8 345.2,407.0 345.8,417.0 346.6,425.1 347.2,429.1 347.8,423.1 348.6,417.0 349.4,409.0 350.2,403.0 351.2,397.0 351.2,379.2 352.2,363.2 353.2,347.1 354.2,333.1 355.2,323.1 356.2,315.1 357.2,309.0 358.2,303.0 359.2,300.0 360.2,298.0 362.2,297.0 363.8,298.0 364.6,300.0 365.2,305.0 365.8,313.1 366.2,323.1 366.8,327.1 367.4,329.1 368.2,330.1 369.2,347.1 369.4,355.0 369.9,363.8 370.5,370.4 371.6,374.8 372.7,381.5 373.8,388.1 374.9,392.5 376.0,399.1 377.1,405.7 378.2,406.8 379.3,403.5 380.4,399.1 381.5,394.7 382.6,393.6 383.7,392.5 384.8,390.3 385.9,388.1 387.0,388.1 388.1,389.2 389.3,392.5 390.4,395.8 391.5,396.9 393.7,398.0 395.9,399.1 398.1,400.2 399.2,401.3 400.3,399.1 401.4,392.5 402.5,381.5 403.6,370.4 404.7,359.4 405.3,355.0 407.5,338.1 408.1,341.3 408.8,354.1 409.4,370.0 409.1,366.0 410.2,377.0 410.9,388.1 411.3,392.5 412.4,385.9 413.1,383.7 413.9,385.9 414.6,381.5 415.3,370.4 416.1,366.0 416.8,377.0 417.5,383.7 417.9,375.9 418.6,381.5 419.0,388.1 419.7,399.1 420.6,414.5 421.2,432.2 421.9,447.6 422.8,458.6 422.8,472.9 423.4,475.1 424.5,466.3 425.6,472.9 426.7,468.5 427.8,464.1 428.9,457.5 430.0,453.1 431.1,448.7 432.2,444.3 433.3,440.9 434.4,438.7 435.5,437.6 436.6,440.9 437.8,446.5 438.9,453.1 440.0,459.7 441.1,464.1 442.2,468.5 443.3,472.9 444.4,476.2 445.5,478.4 446.6,478.4 447.7,475.1 448.8,468.5 449.9,459.7 451.0,446.5 452.1,437.6 453.2,428.8 454.3,422.2 454.9,420.0 456.5,399.1 457.6,381.5 458.7,368.2 459.8,359.4 460.2,355.0 462.3,350.9 463.9,342.9 465.5,334.9 466.3,326.9 467.1,322.1 467.9,318.8 468.7,322.1 469.5,326.9 470.3,331.7 471.9,333.3 473.5,326.9 475.1,322.1" fill="none" stroke="#2ca02c" stroke-width="2.1" stroke-linejoin="round" stroke-linecap="butt"/>
</g>
<rect x="65.4" y="287.2" width="410.20000000000005" height="218.2" fill="none" stroke="#000" stroke-width="1.25"/>
<line x1="61.00000000000001" y1="297.12" x2="65.4" y2="297.12" stroke="#000" stroke-width="1.1"/>
<text x="56.2" y="303.02" text-anchor="end" textLength="16.2" lengthAdjust="spacingAndGlyphs" class="tk">1.0</text>
<line x1="61.00000000000001" y1="346.71" x2="65.4" y2="346.71" stroke="#000" stroke-width="1.1"/>
<text x="56.2" y="352.61" text-anchor="end" textLength="16.2" lengthAdjust="spacingAndGlyphs" class="tk">0.5</text>
<line x1="61.00000000000001" y1="396.30" x2="65.4" y2="396.30" stroke="#000" stroke-width="1.1"/>
<text x="56.2" y="402.20" text-anchor="end" textLength="16.2" lengthAdjust="spacingAndGlyphs" class="tk">0.0</text>
<line x1="61.00000000000001" y1="445.89" x2="65.4" y2="445.89" stroke="#000" stroke-width="1.1"/>
<text x="56.2" y="451.79" text-anchor="end" class="tk"><tspan class="mn">−</tspan><tspan dx="0.7">0.5</tspan></text>
<line x1="61.00000000000001" y1="495.48" x2="65.4" y2="495.48" stroke="#000" stroke-width="1.1"/>
<text x="56.2" y="501.38" text-anchor="end" class="tk"><tspan class="mn">−</tspan><tspan dx="0.7">1.0</tspan></text>
<line x1="110.60" y1="505.4" x2="110.60" y2="510.0" stroke="#000" stroke-width="1.1"/>
<text x="110.60" y="525.00" text-anchor="middle" class="tk">03:15</text>
<line x1="201.90" y1="505.4" x2="201.90" y2="510.0" stroke="#000" stroke-width="1.1"/>
<text x="201.90" y="525.00" text-anchor="middle" class="tk">03:45</text>
<line x1="293.20" y1="505.4" x2="293.20" y2="510.0" stroke="#000" stroke-width="1.1"/>
<text x="293.20" y="525.00" text-anchor="middle" class="tk">04:15</text>
<line x1="384.50" y1="505.4" x2="384.50" y2="510.0" stroke="#000" stroke-width="1.1"/>
<text x="384.50" y="525.00" text-anchor="middle" class="tk">04:45</text>
<line x1="475.80" y1="505.4" x2="475.80" y2="510.0" stroke="#000" stroke-width="1.1"/>
<text x="475.80" y="525.00" text-anchor="middle" class="tk">05:15</text>
<text x="270.7" y="542.8" text-anchor="middle" textLength="31.2" lengthAdjust="spacingAndGlyphs" class="lb">Time</text>
<text x="270.5" y="280.6" text-anchor="middle" class="tt">(b)</text>
<text transform="translate(19.6,396.3) rotate(-90)" x="0" y="0" text-anchor="middle" textLength="188" lengthAdjust="spacingAndGlyphs" class="lb">Nadir unit vector components</text>
<rect x="404.8" y="294.7" width="63.2" height="68.4" rx="2.8" ry="2.8" fill="#fff" fill-opacity="0.8" stroke="#d0d0d0" stroke-width="1"/>
<line x1="409.4" y1="306.5" x2="440.9" y2="306.5" stroke="#1f77b4" stroke-width="2.1"/>
<text x="451.8" y="311.5" class="lg">X</text>
<line x1="409.4" y1="328.2" x2="440.9" y2="328.2" stroke="#ff7f0e" stroke-width="2.1"/>
<text x="451.8" y="333.2" class="lg">Y</text>
<line x1="409.4" y1="349.9" x2="440.9" y2="349.9" stroke="#2ca02c" stroke-width="2.1"/>
<text x="451.8" y="354.9" class="lg">Z</text>
</svg>
</body></html>
